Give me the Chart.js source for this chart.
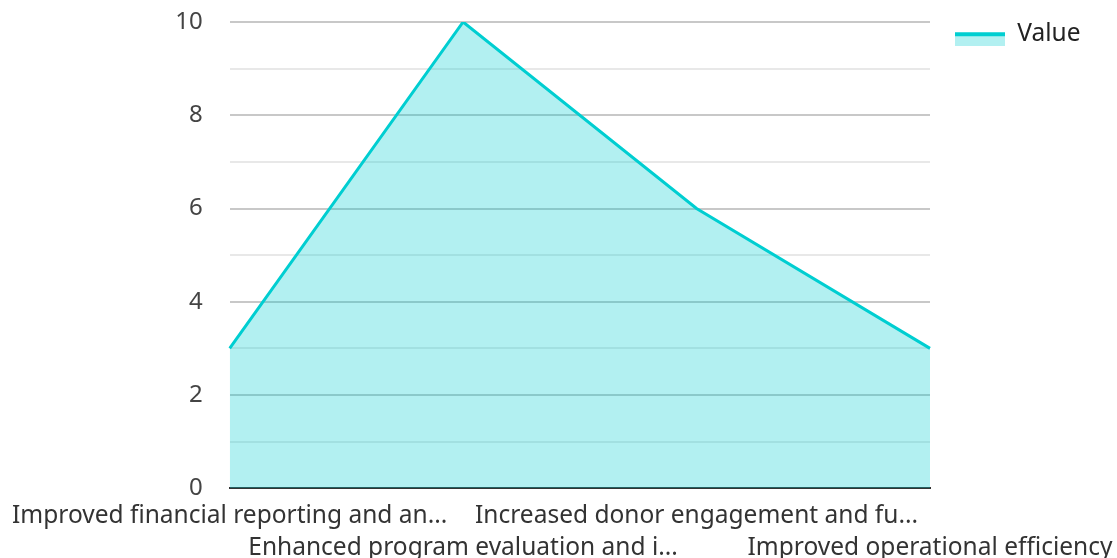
<!DOCTYPE html>
<html>
<head>
<meta charset="utf-8">
<script src="https://cdn.jsdelivr.net/npm/chart.js@4/dist/chart.umd.min.js"></script>
<style>
  html, body { margin: 0; padding: 0; background: #fff; }
  #wrap { width: 1117px; height: 558px; }
</style>
</head>
<body>
<div id="wrap"><canvas id="chart"></canvas></div>
<script>
'use strict';

const categories = [
    'Improved financial reporting and an...',
    'Enhanced program evaluation and i...',
    'Increased donor engagement and fu...',
    'Improved operational efficiency'
];
const values = [3, 10, 6, 3];
const yTicks = [0, 2, 4, 6, 8, 10];

const lineColor = 'rgb(0, 206, 209)';
const fillColor = 'rgba(0, 206, 209, 0.3)';

// legend swatch: fill with a thick line on top
const swatch = document.createElement('canvas');
swatch.width = 50;
swatch.height = 24;
const sctx = swatch.getContext('2d');
sctx.fillStyle = fillColor;
sctx.fillRect(0, 10, 50, 14);
sctx.fillStyle = lineColor;
sctx.fillRect(0, 10, 50, 4);

Chart.defaults.font.family = '"Noto Sans", sans-serif';
Chart.defaults.font.size = 24.5;
Chart.defaults.color = '#333';

let valueChart = new Chart(
    document.querySelector('#chart'), {
        type: 'line',
        data: {
            labels: categories,
            datasets: [{
                label: 'Value',
                data: values,
                borderColor: lineColor,
                backgroundColor: fillColor,
                borderWidth: 3,
                fill: 'origin',
                tension: 0,
                pointRadius: 0,
                pointHoverRadius: 0
            }]
        },
        options: {
            responsive: true,
            maintainAspectRatio: false,
            animation: false,
            layout: { padding: { top: -3, right: 1, bottom: -18, left: 0 } },
            plugins: {
                legend: {
                    position: 'right',
                    align: 'start',
                    labels: {
                        usePointStyle: true,
                        pointStyle: swatch,
                        pointStyleWidth: 50,
                        boxHeight: 24,
                        padding: 25,
                        color: '#222',
                        font: { size: 24.5 }
                    }
                },
                tooltip: { enabled: false }
            },
            scales: {
                x: {
                    grid: { display: false, drawTicks: false },
                    border: { display: true, color: '#333', width: 2 },
                    afterFit: (scale) => { scale.paddingRight = 187; },
                    ticks: {
                        autoSkip: false,
                        maxRotation: 0,
                        minRotation: 0,
                        padding: 12,
                        font: { size: 24.5, lineHeight: 1.3 },
                        callback: function (val, i) {
                            const lab = categories[i];
                            return i % 2 === 0 ? [lab, ''] : ['', lab];
                        }
                    }
                },
                y: {
                    min: 0,
                    max: 10,
                    border: { display: false },
                    afterFit: (scale) => { scale.paddingTop = 22; },
                    grid: {
                        drawTicks: false,
                        color: (ctx) => (ctx.tick && yTicks.includes(ctx.tick.value)) ? '#c8c8c8' : '#e8e8e8',
                        lineWidth: 2
                    },
                    ticks: {
                        stepSize: 1,
                        padding: 27,
                        font: { size: 24 },
                        color: '#444',
                        callback: (v) => yTicks.includes(v) ? v : ''
                    }
                }
            }
        }
    }
);
</script>
</body>
</html>
